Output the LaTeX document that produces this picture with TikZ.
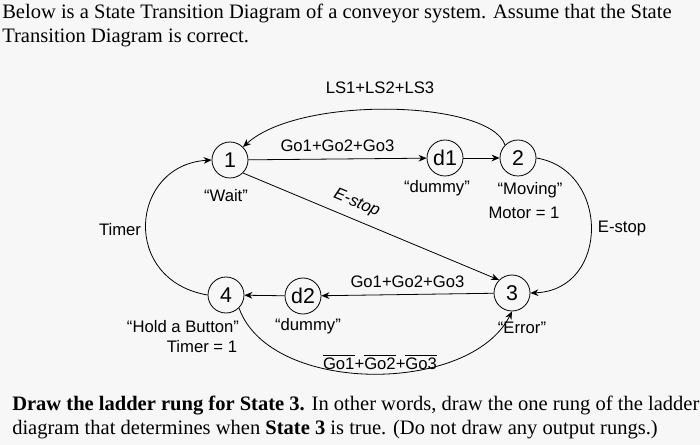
\documentclass[tikz,border=0pt]{standalone}
\usepackage{fontspec}
\setmainfont{Liberation Serif}
\newfontfamily\diag{Liberation Sans}
\usetikzlibrary{arrows.meta}
\begin{document}
\begin{tikzpicture}[x=0.75pt,y=-0.75pt,
  st/.style={circle,draw,semithick,minimum size=27pt,inner sep=0pt,font=\diag\fontsize{16}{16}\selectfont},
  lab/.style={font=\diag\fontsize{12.5}{14}\selectfont,inner sep=1pt},
  tr/.style={-{Stealth[length=6pt,width=5pt]},semithick}]
\useasboundingbox (0,0) rectangle (700,445);
\fill[gray!6] (0,0) rectangle (700,445);
\node[anchor=north west,align=left,inner sep=0pt,font=\fontsize{15.4}{17.5}\selectfont] (title) at (2,4)
 {Below is a State Transition Diagram of a conveyor system. Assume that the State\\Transition Diagram is correct.};
\node[st] (s1) at (230,160) {1};
\node[st] (d1) at (445,158) {d1};
\node[st] (s2) at (518,158) {2};
\node[st] (s3) at (512,293) {3};
\node[st] (d2) at (303,296) {d2};
\node[st] (s4) at (226,295) {4};
\draw[tr] (s2.north west) .. controls (490,100) and (300,95) .. (s1.north east);
\node[lab] (l1) at (380,88) {LS1+LS2+LS3};
\draw[tr] (s1) -- (d1) node[lab,midway,above=4pt] {Go1+Go2+Go3};
\draw[tr] (d1) -- (s2);
\draw[tr] (s1.south east) -- (s3.north west) node[lab,pos=0.42,above=5pt,sloped] {\itshape E-stop};
\draw[tr] (s3) -- (d2) node[lab,midway,above=4pt] {Go1+Go2+Go3};
\draw[tr] (d2) -- (s4);
\draw[tr] (s4.west) .. controls (120,280) and (130,165) .. (s1.west);
\node[lab] (tm) at (120,230) {Timer};
\draw[tr] (s2.east) .. controls (610,170) and (610,290) .. (s3.east);
\node[lab] (es) at (622,228) {E-stop};
\draw[tr] (s4.south east) .. controls (270,395) and (470,395) .. (s3.south);
\node[lab] at (380,362) {$\overline{\mbox{Go1}}$+$\overline{\mbox{Go2}}$+$\overline{\mbox{Go3}}$};
\node[lab] at (226,196) {“Wait”};
\node[lab] at (437,188) {“dummy”};
\node[lab] at (530,190) {“Moving”};
\node[lab] at (524,213) {Motor = 1};
\node[lab] at (183,327) {“Hold a Button”};
\node[lab] at (202,347) {Timer = 1};
\node[lab] at (308,326) {“dummy”};
\node[lab] at (522,328) {“Error”};
\node[anchor=north west,align=left,inner sep=0pt,font=\fontsize{15.4}{17.5}\selectfont] (q) at (12,396)
 {\textbf{Draw the ladder rung for State 3.} In other words, draw the one rung of the ladder\\diagram that determines when \textbf{State 3} is true. (Do not draw any output rungs.)};
\end{tikzpicture}
\end{document}
